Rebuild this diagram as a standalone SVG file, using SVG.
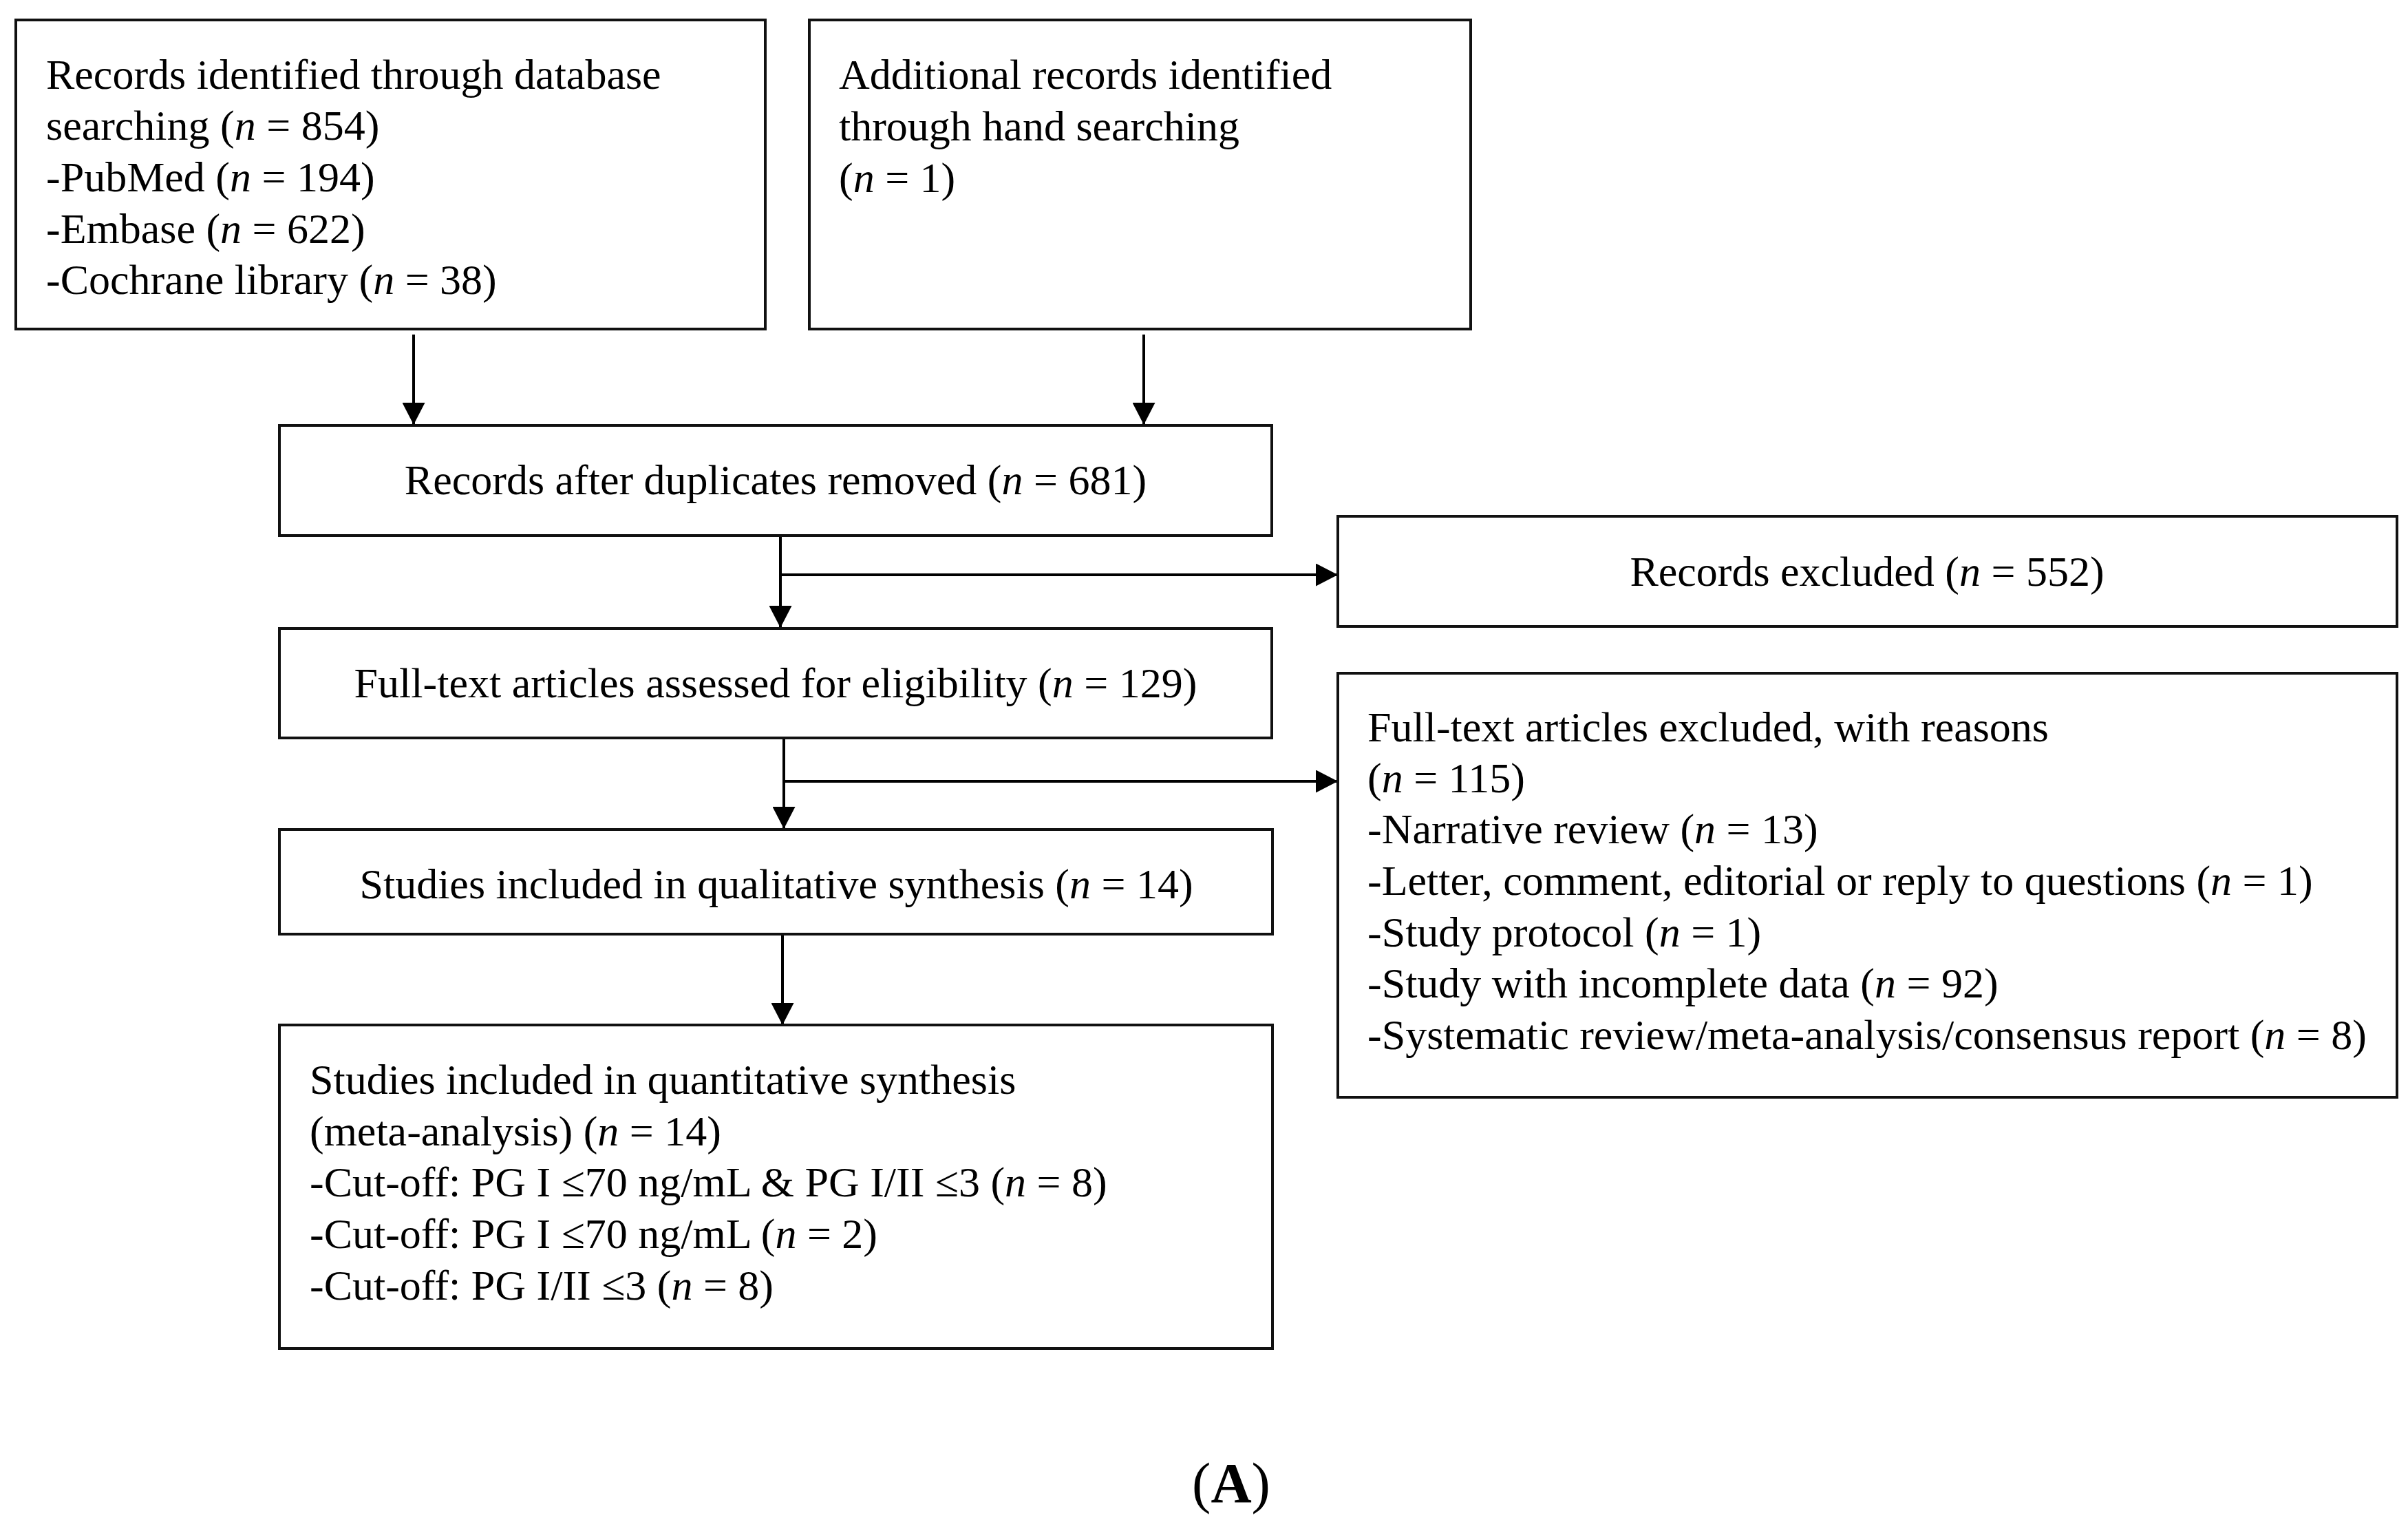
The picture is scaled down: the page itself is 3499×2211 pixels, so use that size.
<svg xmlns="http://www.w3.org/2000/svg" width="3499" height="2211" viewBox="0 0 3499 2211">
<defs>
<style>
.box{fill:#fff;stroke:#111;stroke-width:4}
.t{font-family:"Liberation Serif","Times New Roman",serif;font-size:62px;fill:#000}
.c{text-anchor:middle}
.i{font-style:italic}
.conn{stroke:#000;stroke-width:4;fill:none}
</style>
<marker id="ah" viewBox="0 0 32 33" refX="32" refY="16.5" markerWidth="32" markerHeight="33" markerUnits="userSpaceOnUse" orient="auto">
<path d="M0,0 L32,16.5 L0,33 Z" fill="#000"/>
</marker>
</defs>
<rect width="3499" height="2211" fill="#fff"/>
<g id="connectors">
<line class="conn" x1="601" y1="486" x2="601" y2="617" marker-end="url(#ah)"/>
<line class="conn" x1="1662" y1="486" x2="1662" y2="617" marker-end="url(#ah)"/>
<line class="conn" x1="1134" y1="778" x2="1134" y2="912" marker-end="url(#ah)"/>
<line class="conn" x1="1134" y1="835" x2="1944" y2="835" marker-end="url(#ah)"/>
<line class="conn" x1="1139" y1="1072" x2="1139" y2="1204" marker-end="url(#ah)"/>
<line class="conn" x1="1139" y1="1135" x2="1944" y2="1135" marker-end="url(#ah)"/>
<line class="conn" x1="1137" y1="1357" x2="1137" y2="1489" marker-end="url(#ah)"/>
</g>
<g id="n1">
<rect class="box" x="23" y="29" width="1089" height="449"/>
<text class="t" x="67" y="129">Records identified through database</text>
<text class="t" x="67" y="203">searching (<tspan class="i">n</tspan> = 854)</text>
<text class="t" x="67" y="278">-PubMed (<tspan class="i">n</tspan> = 194)</text>
<text class="t" x="67" y="353">-Embase (<tspan class="i">n</tspan> = 622)</text>
<text class="t" x="67" y="427">-Cochrane library (<tspan class="i">n</tspan> = 38)</text>
</g>
<g id="n2">
<rect class="box" x="1176" y="29" width="961" height="449"/>
<text class="t" x="1219" y="129">Additional records identified</text>
<text class="t" x="1219" y="204">through hand searching</text>
<text class="t" x="1219" y="279">(<tspan class="i">n</tspan> = 1)</text>
</g>
<g id="n3">
<rect class="box" x="406" y="618" width="1442" height="160"/>
<text class="t c" x="1127" y="718">Records after duplicates removed (<tspan class="i">n</tspan> = 681)</text>
</g>
<g id="n4">
<rect class="box" x="1944" y="750" width="1539" height="160"/>
<text class="t c" x="2713" y="851">Records excluded (<tspan class="i">n</tspan> = 552)</text>
</g>
<g id="n5">
<rect class="box" x="406" y="913" width="1442" height="159"/>
<text class="t c" x="1127" y="1013">Full-text articles assessed for eligibility (<tspan class="i">n</tspan> = 129)</text>
</g>
<g id="n6">
<rect class="box" x="1944" y="978" width="1539" height="616"/>
<text class="t" x="1987" y="1077">Full-text articles excluded, with reasons</text>
<text class="t" x="1987" y="1151">(<tspan class="i">n</tspan> = 115)</text>
<text class="t" x="1987" y="1225">-Narrative review (<tspan class="i">n</tspan> = 13)</text>
<text class="t" x="1987" y="1300">-Letter, comment, editorial or reply to questions (<tspan class="i">n</tspan> = 1)</text>
<text class="t" x="1987" y="1375">-Study protocol (<tspan class="i">n</tspan> = 1)</text>
<text class="t" x="1987" y="1449">-Study with incomplete data (<tspan class="i">n</tspan> = 92)</text>
<text class="t" x="1987" y="1524">-Systematic review/meta-analysis/consensus report (<tspan class="i">n</tspan> = 8)</text>
</g>
<g id="n7">
<rect class="box" x="406" y="1205" width="1443" height="152"/>
<text class="t c" x="1128" y="1305">Studies included in qualitative synthesis (<tspan class="i">n</tspan> = 14)</text>
</g>
<g id="n8">
<rect class="box" x="406" y="1489" width="1443" height="470"/>
<text class="t" x="450" y="1589">Studies included in quantitative synthesis</text>
<text class="t" x="450" y="1664">(meta-analysis) (<tspan class="i">n</tspan> = 14)</text>
<text class="t" x="450" y="1738">-Cut-off: PG I ≤70 ng/mL &amp; PG I/II ≤3 (<tspan class="i">n</tspan> = 8)</text>
<text class="t" x="450" y="1813">-Cut-off: PG I ≤70 ng/mL (<tspan class="i">n</tspan> = 2)</text>
<text class="t" x="450" y="1888">-Cut-off: PG I/II ≤3 (<tspan class="i">n</tspan> = 8)</text>
</g>
<text class="t c" x="1789" y="2182" style="font-size:82px">(<tspan font-weight="bold">A</tspan>)</text>
</svg>
